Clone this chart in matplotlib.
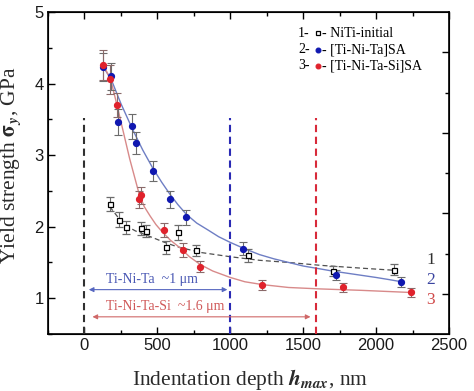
import matplotlib
matplotlib.use("Agg")
import matplotlib.pyplot as plt
import numpy as np

plt.rcParams['mathtext.fontset'] = 'stix'
plt.rcParams['font.family'] = ['Liberation Sans', 'DejaVu Sans']

# ---- data ----
niti_x = [173, 240, 283, 390, 422, 562, 639, 765, 1121, 1707, 2123]
niti_y = [2.32, 2.10, 1.99, 1.98, 1.94, 1.71, 1.92, 1.67, 1.60, 1.38, 1.40]
niti_err = [0.10, 0.10, 0.09, 0.09, 0.09, 0.09, 0.10, 0.08, 0.09, 0.07, 0.08]

tnt_x = [130, 185, 228, 329, 356, 468, 584, 699, 1087, 1724, 2174]
tnt_y = [4.23, 4.10, 3.46, 3.40, 3.17, 2.78, 2.38, 2.13, 1.69, 1.33, 1.23]
tnt_err = [0.20, 0.19, 0.18, 0.18, 0.15, 0.14, 0.12, 0.10, 0.09, 0.07, 0.07]

tnts_x = [125, 178, 221, 372, 390, 543, 673, 795, 1221, 1776, 2237]
tnts_y = [4.26, 4.06, 3.70, 2.38, 2.44, 1.95, 1.67, 1.44, 1.19, 1.15, 1.08]
tnts_err = [0.21, 0.20, 0.17, 0.12, 0.12, 0.10, 0.10, 0.08, 0.07, 0.06, 0.06]

# fitted curves
fit1_x = [173, 269, 350, 452, 550, 635, 795, 1000, 1200, 1400, 1616, 1900, 2130]
fit1_y = [2.28, 2.03, 1.94, 1.86, 1.78, 1.72, 1.64, 1.58, 1.53, 1.50, 1.46, 1.42, 1.39]

fit2_x = [130, 185, 250, 330, 400, 468, 530, 584, 640, 700, 770, 850, 920, 1000,
          1100, 1200, 1300, 1400, 1500, 1616, 1700, 1800, 1900, 2000, 2090, 2174]
fit2_y = [4.23, 4.05, 3.72, 3.36, 3.07, 2.82, 2.62, 2.46, 2.31, 2.17, 2.05, 1.95,
          1.86, 1.78, 1.69, 1.61, 1.55, 1.50, 1.45, 1.41, 1.38, 1.35, 1.32, 1.29, 1.26, 1.23]

fit3_x = [125, 178, 223, 310, 372, 410, 450, 490, 532, 590, 658, 720, 795, 880,
          1000, 1100, 1221, 1400, 1616, 1900, 2240]
fit3_y = [4.27, 4.07, 3.70, 2.95, 2.48, 2.28, 2.15, 2.03, 1.93, 1.81, 1.70, 1.58,
          1.47, 1.38, 1.29, 1.23, 1.19, 1.15, 1.13, 1.11, 1.08]

vline_x = [0, 1000, 1590]
xticks = [0, 500, 1000, 1500, 2000, 2500]
yticks = [1, 2, 3, 4, 5]

c_blue = '#1018b0'
c_red = '#e0222c'
c_blue_line = '#6e7ec4'
c_red_line = '#d88a8a'
c_err = '#6c6c6c'

fig = plt.figure(figsize=(4.74, 3.91), dpi=100)
ax = fig.add_axes([48/474, 1-334/391, (449-48)/474, (334-12)/391])

# fitted curves
ax.plot(fit1_x, fit1_y, color='#505050', lw=0.9, ls=(0, (4, 2.5)), zorder=2)
ax.plot(fit2_x, fit2_y, color=c_blue_line, lw=1.0, zorder=2)
ax.plot(fit3_x, fit3_y, color=c_red_line, lw=1.0, zorder=2)

# data with error bars
ax.errorbar(niti_x, niti_y, yerr=niti_err, fmt='s', ms=3.6, mfc='white', mec='black',
            mew=0.9, ecolor=c_err, elinewidth=0.8, capsize=2.8, capthick=0.8, zorder=4)
ax.errorbar(tnt_x, tnt_y, yerr=tnt_err, fmt='o', ms=4.2, mfc=c_blue, mec=c_blue,
            ecolor=c_err, elinewidth=0.8, capsize=2.8, capthick=0.8, zorder=4)
ax.errorbar(tnts_x, tnts_y, yerr=tnts_err, fmt='o', ms=4.2, mfc=c_red, mec=c_red,
            ecolor='#8a6a6a', elinewidth=0.8, capsize=2.8, capthick=0.8, zorder=4)

# vertical dashed lines
for xv, col in zip(vline_x, ['#303030', '#2a2ab4', '#d82a3a']):
    ax.plot([xv, xv], [0.5, 3.52], color=col, lw=1.5, ls=(0, (3.5, 2.2)), zorder=3)

# arrows
ax.annotate('', xy=(30, 1.12), xytext=(980, 1.12),
            arrowprops=dict(arrowstyle='<|-|>', color='#5566c0', lw=0.8,
                            mutation_scale=7, shrinkA=0, shrinkB=0))
ax.annotate('', xy=(55, 0.74), xytext=(1550, 0.74),
            arrowprops=dict(arrowstyle='<|-|>', color='#d06868', lw=0.8,
                            mutation_scale=7, shrinkA=0, shrinkB=0))
ax.text(150, 1.26, 'Ti-Ni-Ta  ~1 μm', color='#4a58b4', fontsize=10,
        family=['Liberation Serif', 'DejaVu Serif'], va='center', ha='left')
ax.text(150, 0.88, 'Ti-Ni-Ta-Si  ~1.6 μm', color='#d05a5a', fontsize=10,
        family=['Liberation Serif', 'DejaVu Serif'], va='center', ha='left')

# curve numbers
for lab, yy, col in zip(['1', '2', '3'], [1.53, 1.25, 0.97], ['#303030', '#3a44a0', '#d04848']):
    ax.text(2345, yy, lab, color=col, fontsize=12.5, family=['Liberation Serif'],
            va='center', ha='left')

# legend (manual, Origin-style)
serif = ['Liberation Serif', 'DejaVu Serif']
leg_rows = [('1-', 'NiTi-initial', 's', 'white', 'black'),
            ('2-', '[Ti-Ni-Ta]SA', 'o', c_blue, c_blue),
            ('3-', '[Ti-Ni-Ta-Si]SA', 'o', c_red, c_red)]
leg_y = [33.3, 49.5, 65.5]
for (num, lab, mk, fc, ec), py in zip(leg_rows, leg_y):
    yf = 1 - py/391
    fig.text(298/474, yf, num, fontsize=10, family=serif, va='center', ha='left')
    fig.lines.append(plt.Line2D([317.5/474], [yf], marker=mk, ms=3.4,
                                mfc=fc, mec=ec, mew=0.9, ls='none', transform=fig.transFigure))
    fig.text(322.5/474, yf, '- ' + lab, fontsize=10, family=serif, va='center', ha='left')

# axes setup
ax.set_xlim(-250, 2500)
ax.set_ylim(0.5, 5)
ax.set_xticks(xticks)
ax.set_yticks(yticks)
ax.set_xticks(np.arange(-250, 2500, 250), minor=True)
ax.set_yticks(np.arange(0.5, 5.0, 0.5), minor=True)
ax.tick_params(which='both', direction='in', top=True, right=False, labelsize=12, pad=3,
               labelcolor='#1a1a1a')
ax.tick_params(which='major', length=5, width=1)
ax.tick_params(which='minor', length=3, width=1)
for s in ax.spines.values():
    s.set_linewidth(1.2)

# right axis ticks (independent spacing as in reference)
ax2 = ax.twinx()
ax2.set_ylim(0.5, 5)
ax2.set_yticks([0.5 + 0.5625*k for k in (1, 3, 5, 7)])
ax2.set_yticks([0.5 + 0.5625*k for k in (2, 4, 6)], minor=True)
ax2.tick_params(which='both', direction='in', labelright=False, width=1)
ax2.tick_params(which='major', length=5)
ax2.tick_params(which='minor', length=3)

fig.text(250/474, 1-380/391, r'Indentation depth $\mathbfit{h}_{\mathbfit{max}}$, nm',
         fontsize=15.5, family=serif, ha='center', va='center', color='#2a2a2a')
fig.text(12/474, 1-165/391, r'Yield strength $\mathbf{\sigma}_{\mathbfit{y}}$, GPa',
         fontsize=15.5, family=serif, ha='center', va='center', rotation=90, color='#2a2a2a')

fig.savefig('out.png', dpi=100)
